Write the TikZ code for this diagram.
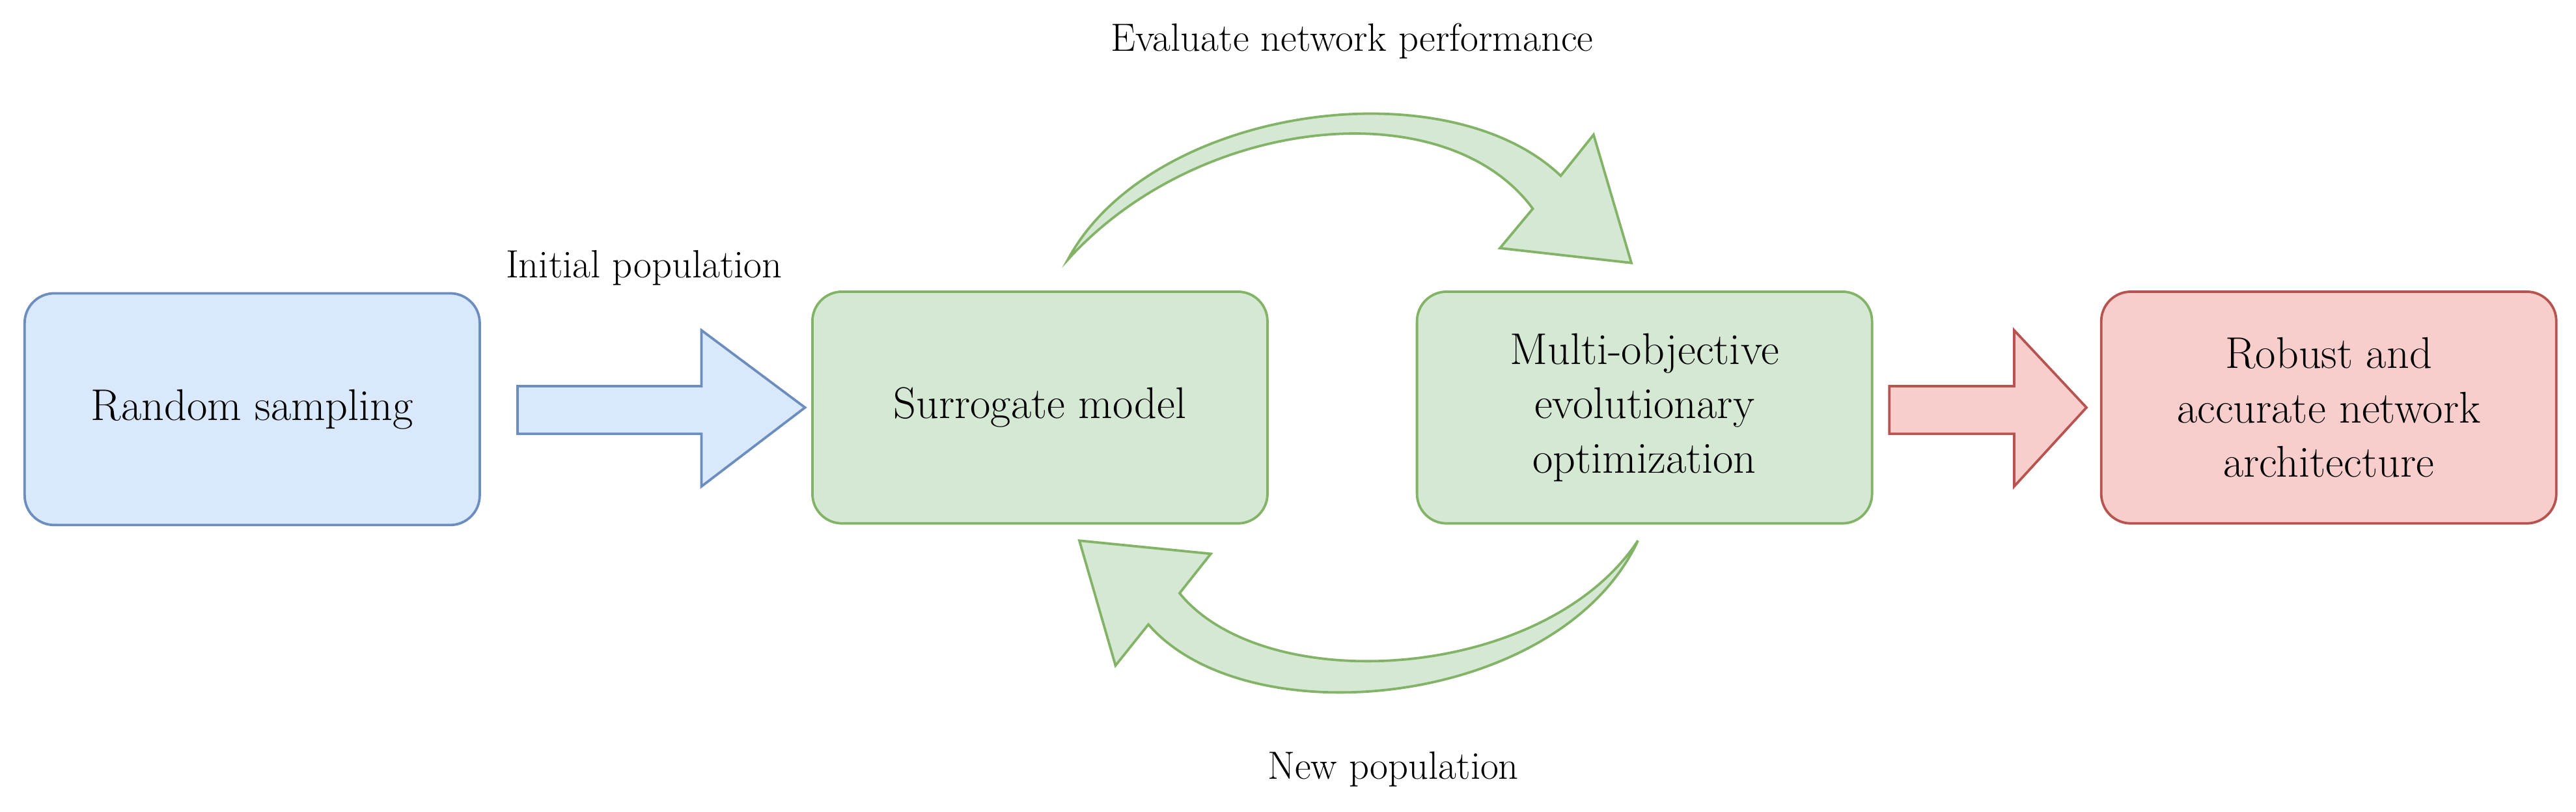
\documentclass[tikz,border=0pt]{standalone}
\begin{document}
\begin{tikzpicture}[x=1pt,y=-1pt,
  box/.style={rounded corners=18pt,draw,line width=1.5pt,minimum width=277pt,minimum height=141pt,align=center,font=\fontsize{27}{33}\selectfont},
  lbl/.style={font=\fontsize{24}{29}\selectfont},
  fat/.style={line width=1.5pt,line join=miter}]
\definecolor{bf}{HTML}{DAE8FC}\definecolor{bd}{HTML}{6C8EBF}
\definecolor{gf}{HTML}{D5E8D4}\definecolor{gd}{HTML}{82B366}
\definecolor{rf}{HTML}{F8CECC}\definecolor{rd}{HTML}{B85450}
\useasboundingbox (0,0) rectangle (1568,494);
\node[box,draw=bd,fill=bf] (rs) at (153.5,249) {Random sampling};
\node[box,draw=gd,fill=gf] (sm) at (633,248) {Surrogate model};
\node[box,draw=gd,fill=gf] (mo) at (1001,248) {Multi-objective\\evolutionary\\optimization};
\node[box,draw=rd,fill=rf] (ra) at (1417.5,248) {Robust and\\accurate network\\architecture};
% straight arrows
\draw[fat,draw=bd,fill=bf] (315,235) -- (427,235) -- (427,201) -- (490,248) -- (427,296) -- (427,264) -- (315,264) -- cycle;
\draw[fat,draw=rd,fill=rf] (1150,235) -- (1226,235) -- (1226,201) -- (1270,248) -- (1226,296) -- (1226,264) -- (1150,264) -- cycle;
% curved arrows
\draw[fat,draw=gd,fill=gf] (650,158) .. controls (700,65) and (880,40) .. (950,107) -- (970,82) -- (993,160) -- (913,151) -- (933,127) .. controls (880,55) and (730,70) .. (650,158) -- cycle;
\draw[fat,draw=gd,fill=gf] (997,329) .. controls (950,430) and (760,450) .. (699,380) -- (679,405) -- (657,329) -- (737,337) -- (718,361) .. controls (770,425) and (940,415) .. (997,329) -- cycle;
\node[lbl] (l1) at (392,163) {Initial population};
\node[lbl] (l2) at (823,25) {Evaluate network performance};
\node[lbl] (l3) at (848,468) {New population};
\end{tikzpicture}
\end{document}
